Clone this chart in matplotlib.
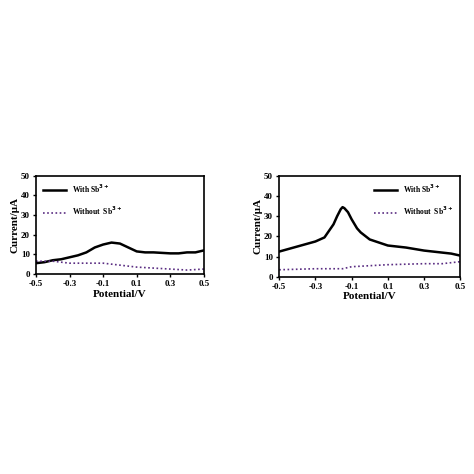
import matplotlib
matplotlib.use("Agg")
import matplotlib.pyplot as plt

plt.rcParams['font.family'] = ['Liberation Serif', 'DejaVu Serif']
plt.rcParams['font.weight'] = 'bold'

x1_with = [-0.5,-0.45,-0.4,-0.35,-0.3,-0.25,-0.2,-0.15,-0.1,-0.05,0,0.05,0.1,0.15,0.2,0.3,0.35,0.4,0.45,0.5]
y1_with = [5.5,6,7,7.5,8.5,9.5,11,13.5,15,16,15.5,13.5,11.5,11,11,10.5,10.5,11,11,12]
x1_wo = [-0.5,-0.4,-0.3,-0.2,-0.1,0,0.1,0.2,0.3,0.4,0.5]
y1_wo = [6.5,6.5,5.5,5.5,5.5,4.5,3.5,3,2.5,2,2.5]
x2_with = [-0.5,-0.4,-0.3,-0.25,-0.2,-0.18,-0.16,-0.15,-0.14,-0.12,-0.1,-0.07,-0.05,0,0.1,0.2,0.3,0.4,0.45,0.5]
y2_with = [12.5,15,17.5,19.5,26,30,33.5,34.5,34,32,28.5,24,22,18.5,15.5,14.5,13,12,11.5,10.5]
x2_wo = [-0.5,-0.3,-0.15,-0.1,0,0.1,0.3,0.4,0.5]
y2_wo = [3.5,4,4,5,5.5,6,6.5,6.5,7.5]
xticks = [-0.5,-0.3,-0.1,0.1,0.3,0.5]
xticklabels = ['-0.5','-0.3','-0.1','0.1','0.3','0.5']
yticks = [0,10,20,30,40,50]

fig = plt.figure(figsize=(4.74,4.74), dpi=100)
ax1 = fig.add_axes([0.076,0.422,0.354,0.207])
ax2 = fig.add_axes([0.589,0.416,0.382,0.213])

for ax, xw, yw, xo, yo, loc in [(ax1,x1_with,y1_with,x1_wo,y1_wo,'upper left'),
                                (ax2,x2_with,y2_with,x2_wo,y2_wo,'upper right')]:
    ax.plot(xw, yw, color='black', lw=1.8, label='With Sb$^{3+}$')
    ax.plot(xo, yo, color='#5a2d82', lw=1.2, ls=(0,(1,1.5)), label='Without  Sb$^{3+}$')
    ax.set_xlim(-0.5,0.5)
    ax.set_ylim(0,50)
    ax.set_xticks(xticks)
    ax.set_xticklabels(xticklabels)
    ax.set_yticks(yticks)
    ax.tick_params(labelsize=6.5, width=1, length=2.5, pad=2)
    for s in ax.spines.values():
        s.set_linewidth(1.2)
    ax.set_xlabel('Potential/V', fontsize=8, fontweight='bold', labelpad=1)
    ax.set_ylabel('Current/μA', fontsize=8, fontweight='bold', labelpad=1)
    ax.legend(loc=loc, frameon=False, fontsize=5.5, handlelength=3, labelspacing=1.3)

fig.savefig('out.png', dpi=100)
